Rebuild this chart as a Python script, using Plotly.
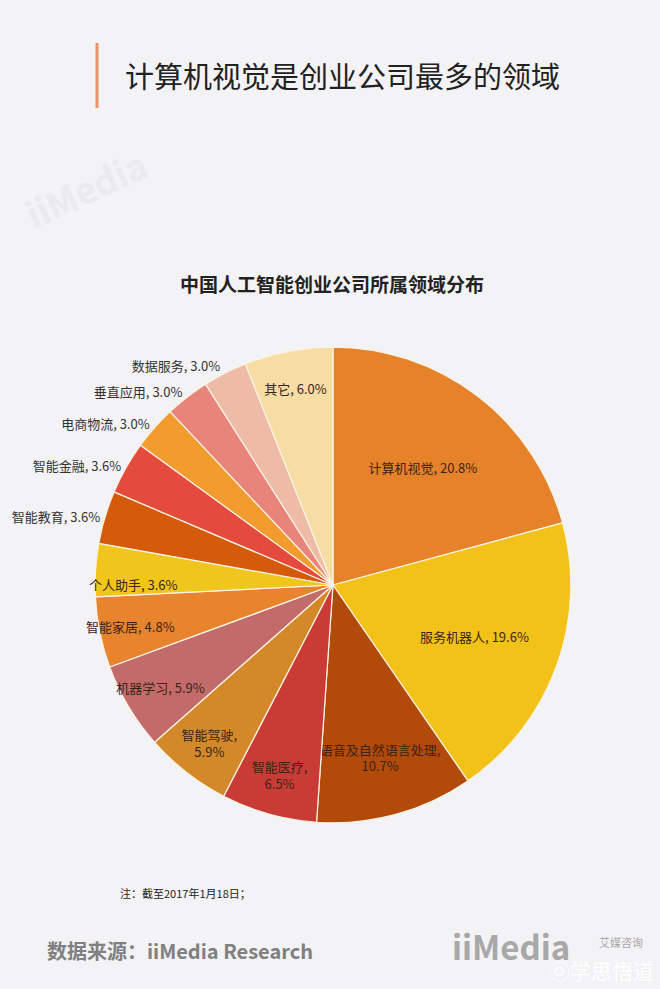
import plotly.graph_objects as go

categories = ["计算机视觉", "服务机器人", "语音及自然语言处理", "智能医疗", "智能驾驶",
              "机器学习", "智能家居", "个人助手", "智能教育", "智能金融",
              "电商物流", "垂直应用", "数据服务", "其它"]
values = [20.8, 19.6, 10.7, 6.5, 5.9, 5.9, 4.8, 3.6, 3.6, 3.6, 3.0, 3.0, 3.0, 6.0]
colors = ["#E6822A", "#F2C218", "#B24A0A", "#C93B35", "#D3892A",
          "#C26B6A", "#E8832E", "#F0C51C", "#D45A0C", "#E54B3C",
          "#F29B2E", "#E8847A", "#EEBBA6", "#F6DDA4"]
label_break = [" ", " ", "<br>", "<br>", "<br>", " ", " ", " ", " ", " ", " ", " ", " ", " "]
positions = ["inside"] * 8 + ["outside"] * 5 + ["inside"]

texts = [f"{c},{b}{v:.1f}%" for c, v, b in zip(categories, values, label_break)]

FONT = "Noto Sans CJK SC"
BG = "#F3F2F5"

fig = go.Figure(go.Pie(
    labels=categories,
    values=values,
    text=texts,
    textinfo="text",
    textposition=positions,
    insidetextorientation="horizontal",
    sort=False,
    direction="clockwise",
    rotation=0,
    marker=dict(colors=colors, line=dict(color="#FBF3E6", width=1.2)),
    textfont=dict(family=FONT, size=13, color="#3B2418"),
    outsidetextfont=dict(family=FONT, size=13, color="#333333"),
    insidetextfont=dict(family=FONT, size=13, color="#3B2418"),
    domain=dict(x=[0.144, 0.865], y=[0.168, 0.649]),
    showlegend=False,
    hoverinfo="label+percent",
))

fig.update_layout(
    width=660, height=989,
    margin=dict(l=0, r=0, t=0, b=0),
    paper_bgcolor=BG, plot_bgcolor=BG,
    font=dict(family=FONT),
    uniformtext=dict(minsize=13, mode="show"),
    shapes=[dict(type="line", xref="paper", yref="paper",
                 x0=97/660, x1=97/660, y0=1-43/989, y1=1-108/989,
                 line=dict(color="#E8946A", width=3))],
    annotations=[
        dict(text="<b>iiMedia</b>", x=85/660, y=1-188/989,
             xref="paper", yref="paper", xanchor="center", yanchor="middle",
             showarrow=False, textangle=-25, opacity=0.5,
             font=dict(family=FONT, size=36, color="#E4E3E8")),
        dict(text="计算机视觉是创业公司最多的领域", x=123/660, y=1-75/989,
             xref="paper", yref="paper", xanchor="left", yanchor="middle",
             showarrow=False, font=dict(family=FONT, size=29, color="#222222")),
        dict(text="<b>中国人工智能创业公司所属领域分布</b>", x=332/660, y=1-283/989,
             xref="paper", yref="paper", xanchor="center", yanchor="middle",
             showarrow=False, font=dict(family=FONT, size=19, color="#222222")),
        dict(text="注：截至2017年1月18日；", x=118/660, y=1-893/989,
             xref="paper", yref="paper", xanchor="left", yanchor="middle",
             showarrow=False, font=dict(family=FONT, size=11, color="#222222")),
        dict(text="<b>数据来源：iiMedia Research</b>", x=45/660, y=1-950/989,
             xref="paper", yref="paper", xanchor="left", yanchor="middle",
             showarrow=False, font=dict(family=FONT, size=20, color="#808080")),
        dict(text="<b>iiMedia</b>", x=450/660, y=1-946/989,
             xref="paper", yref="paper", xanchor="left", yanchor="middle",
             showarrow=False, font=dict(family=FONT, size=33, color="#A8A8A8")),
        dict(text="艾媒咨询", x=597/660, y=1-942/989,
             xref="paper", yref="paper", xanchor="left", yanchor="middle",
             showarrow=False, font=dict(family=FONT, size=11, color="#A8A8A8")),
        dict(text="㉧学思悟道", x=656/660, y=1-970/989,
             xref="paper", yref="paper", xanchor="right", yanchor="middle",
             showarrow=False, font=dict(family=FONT, size=21, color="#FFFFFF")),
    ],
)

fig.write_html("out.html", config={"displayModeBar": False},
               post_script="document.body.style.margin='0';document.body.style.overflow='hidden';")
